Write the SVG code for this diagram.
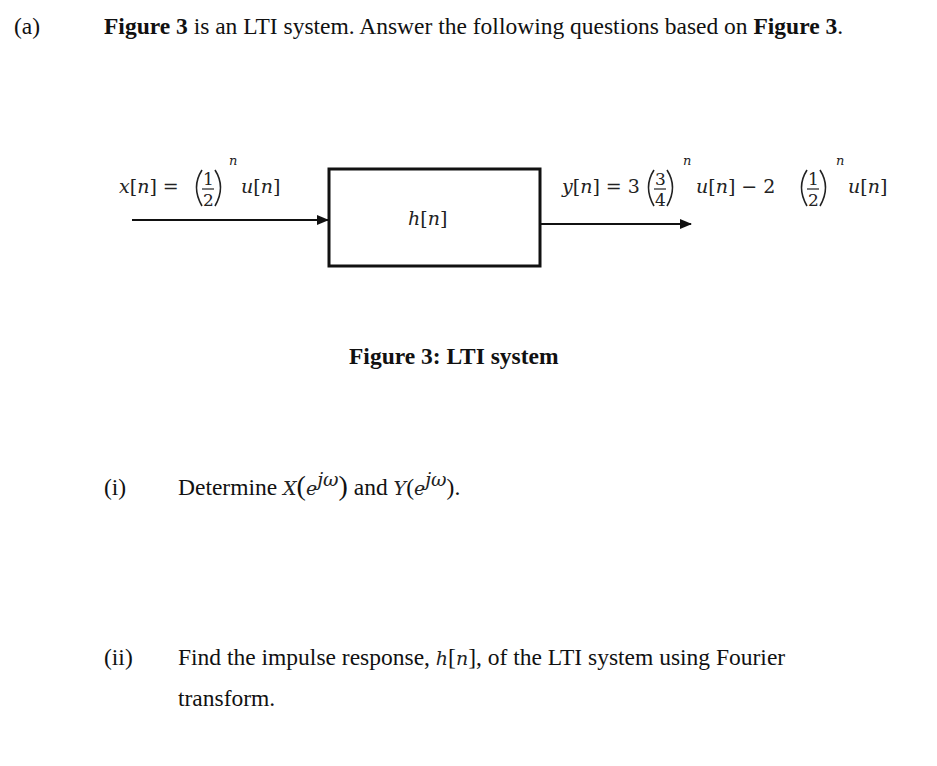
<svg xmlns="http://www.w3.org/2000/svg" width="937" height="766" viewBox="0 0 937 766">
<style>
.t{font-family:"Liberation Serif",serif;font-size:23.5px;fill:#111}
.b{font-weight:bold}
.m{font-family:"DejaVu Serif","Liberation Serif",serif;font-style:italic;font-size:19px;fill:#222}
.r{font-style:normal}
.s{font-family:"DejaVu Serif","Liberation Serif",serif;font-size:17px;fill:#222}
.n{font-family:"DejaVu Serif",serif;font-style:italic;font-size:13px;fill:#222}
.pr{stroke:#222;stroke-width:1.6;fill:none}
.ln{stroke:#111;stroke-width:2;fill:none}
</style>
<defs><marker id="ah" markerWidth="12" markerHeight="10" refX="11" refY="5" orient="auto" markerUnits="userSpaceOnUse"><path d="M0,0L12,5L0,10z" fill="#111"/></marker></defs>
<text class="t" x="14" y="34">(a)</text>
<text class="t" x="104" y="34"><tspan class="b">Figure 3</tspan> is an LTI system. Answer the following questions based on <tspan class="b">Figure 3</tspan>.</text>
<g id="input-label">
<text class="m" x="119" y="193">x<tspan class="r">[</tspan>n<tspan class="r">] =</tspan></text>
<path class="pr" d="M202,170 Q191,187 202,206"/>
<text class="s" x="203" y="185">1</text><line x1="202" y1="189" x2="214" y2="189" stroke="#222" stroke-width="1.2"/><text class="s" x="203" y="206">2</text>
<path class="pr" d="M215,170 Q226,187 215,206"/>
<text class="n" x="229" y="165">n</text>
<text class="m" x="241" y="193">u<tspan class="r">[</tspan>n<tspan class="r">]</tspan></text>
</g>
<g id="output-label">
<text class="m" x="562" y="193">y<tspan class="r">[</tspan>n<tspan class="r">] = 3</tspan></text>
<path class="pr" d="M654,170 Q643,187 654,206"/>
<text class="s" x="655" y="185">3</text><line x1="654" y1="189" x2="666" y2="189" stroke="#222" stroke-width="1.2"/><text class="s" x="655" y="206">4</text>
<path class="pr" d="M667,170 Q678,187 667,206"/>
<text class="n" x="683" y="165">n</text>
<text class="m" x="696" y="193">u<tspan class="r">[</tspan>n<tspan class="r">] − 2</tspan></text>
<path class="pr" d="M807,170 Q796,187 807,206"/>
<text class="s" x="808" y="185">1</text><line x1="807" y1="189" x2="819" y2="189" stroke="#222" stroke-width="1.2"/><text class="s" x="808" y="206">2</text>
<path class="pr" d="M820,170 Q831,187 820,206"/>
<text class="n" x="836" y="165">n</text>
<text class="m" x="848" y="193">u<tspan class="r">[</tspan>n<tspan class="r">]</tspan></text>
</g>
<g id="system">
<rect x="329" y="169" width="211" height="97" fill="#fff" stroke="#111" stroke-width="3"/>
<text class="m" x="408" y="225">h<tspan class="r">[</tspan>n<tspan class="r">]</tspan></text>
</g>
<g id="connectors">
<line class="ln" x1="132" y1="220" x2="328" y2="220" marker-end="url(#ah)"/>
<line class="ln" x1="541" y1="224" x2="691" y2="224" marker-end="url(#ah)"/>
</g>
<text class="t b" x="349" y="364">Figure 3: LTI system</text>
<text class="t" x="104" y="495">(i)</text>
<text class="t" x="178" y="495">Determine <tspan class="m">X</tspan><tspan font-size="28">(</tspan><tspan class="m">e</tspan><tspan class="m" font-size="13" dy="-9">jω</tspan><tspan font-size="28" dy="9">)</tspan> and <tspan class="m">Y</tspan>(<tspan class="m">e</tspan><tspan class="m" font-size="13" dy="-9">jω</tspan><tspan dy="9">).</tspan></text>
<text class="t" x="104" y="665">(ii)</text>
<text class="t" x="178" y="665">Find the impulse response, <tspan class="m">h</tspan>[<tspan class="m">n</tspan>], of the LTI system using Fourier</text>
<text class="t" x="178" y="706">transform.</text>
</svg>
